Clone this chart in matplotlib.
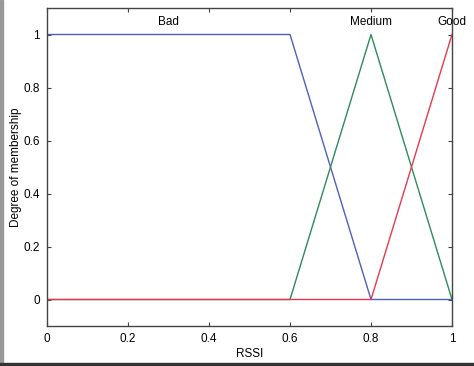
import matplotlib
matplotlib.use("Agg")
import matplotlib.pyplot as plt
from matplotlib.patches import Rectangle

x_pts = [0.0, 0.6, 0.8, 1.0]
bad = [1.0, 1.0, 0.0, 0.0]
medium = [0.0, 0.0, 1.0, 0.0]
good = [0.0, 0.0, 0.0, 1.0]
labels = ["Bad", "Medium", "Good"]
label_x = [0.3, 0.8, 1.0]
xticks = [0, 0.2, 0.4, 0.6, 0.8, 1]
yticks = [0, 0.2, 0.4, 0.6, 0.8, 1]

plt.rcParams['font.family'] = ['Liberation Sans', 'DejaVu Sans']

fig = plt.figure(figsize=(4.74, 3.66), dpi=100)
ax = fig.add_axes([47/474, 40/366, 405/474, 318/366])

ax.plot(x_pts, bad, color='#4f5fc0', lw=1.0)
ax.plot(x_pts, medium, color='#2f8a5a', lw=1.0)
ax.plot(x_pts, good, color='#e8384f', lw=1.0)

for lab, lx in zip(labels, label_x):
    ax.text(lx, 1.048, lab, ha='center', va='center', fontsize=8.5, clip_on=False)

ax.set_xlim(0, 1)
ax.set_ylim(-0.1, 1.1)
ax.set_xticks(xticks)
ax.set_xticklabels([f"{t:g}" for t in xticks])
ax.set_yticks(yticks)
ax.set_yticklabels([f"{t:g}" for t in yticks])
ax.tick_params(direction='in', top=True, right=True, length=3, width=0.8,
               labelsize=8.5, color='#444444', pad=5)
for s in ax.spines.values():
    s.set_color('#444444')
    s.set_linewidth(1.0)
ax.set_xlabel('RSSI', fontsize=8.5, labelpad=2)
ax.set_ylabel('Degree of membership', fontsize=8.5, labelpad=1)

fig.patches.append(Rectangle((0, 0), 3/474, 1, transform=fig.transFigure,
                             color='#999999', zorder=10))
fig.patches.append(Rectangle((0, 0), 1, 3/366, transform=fig.transFigure,
                             color='#333333', zorder=10))

fig.savefig('out.png', dpi=100)
